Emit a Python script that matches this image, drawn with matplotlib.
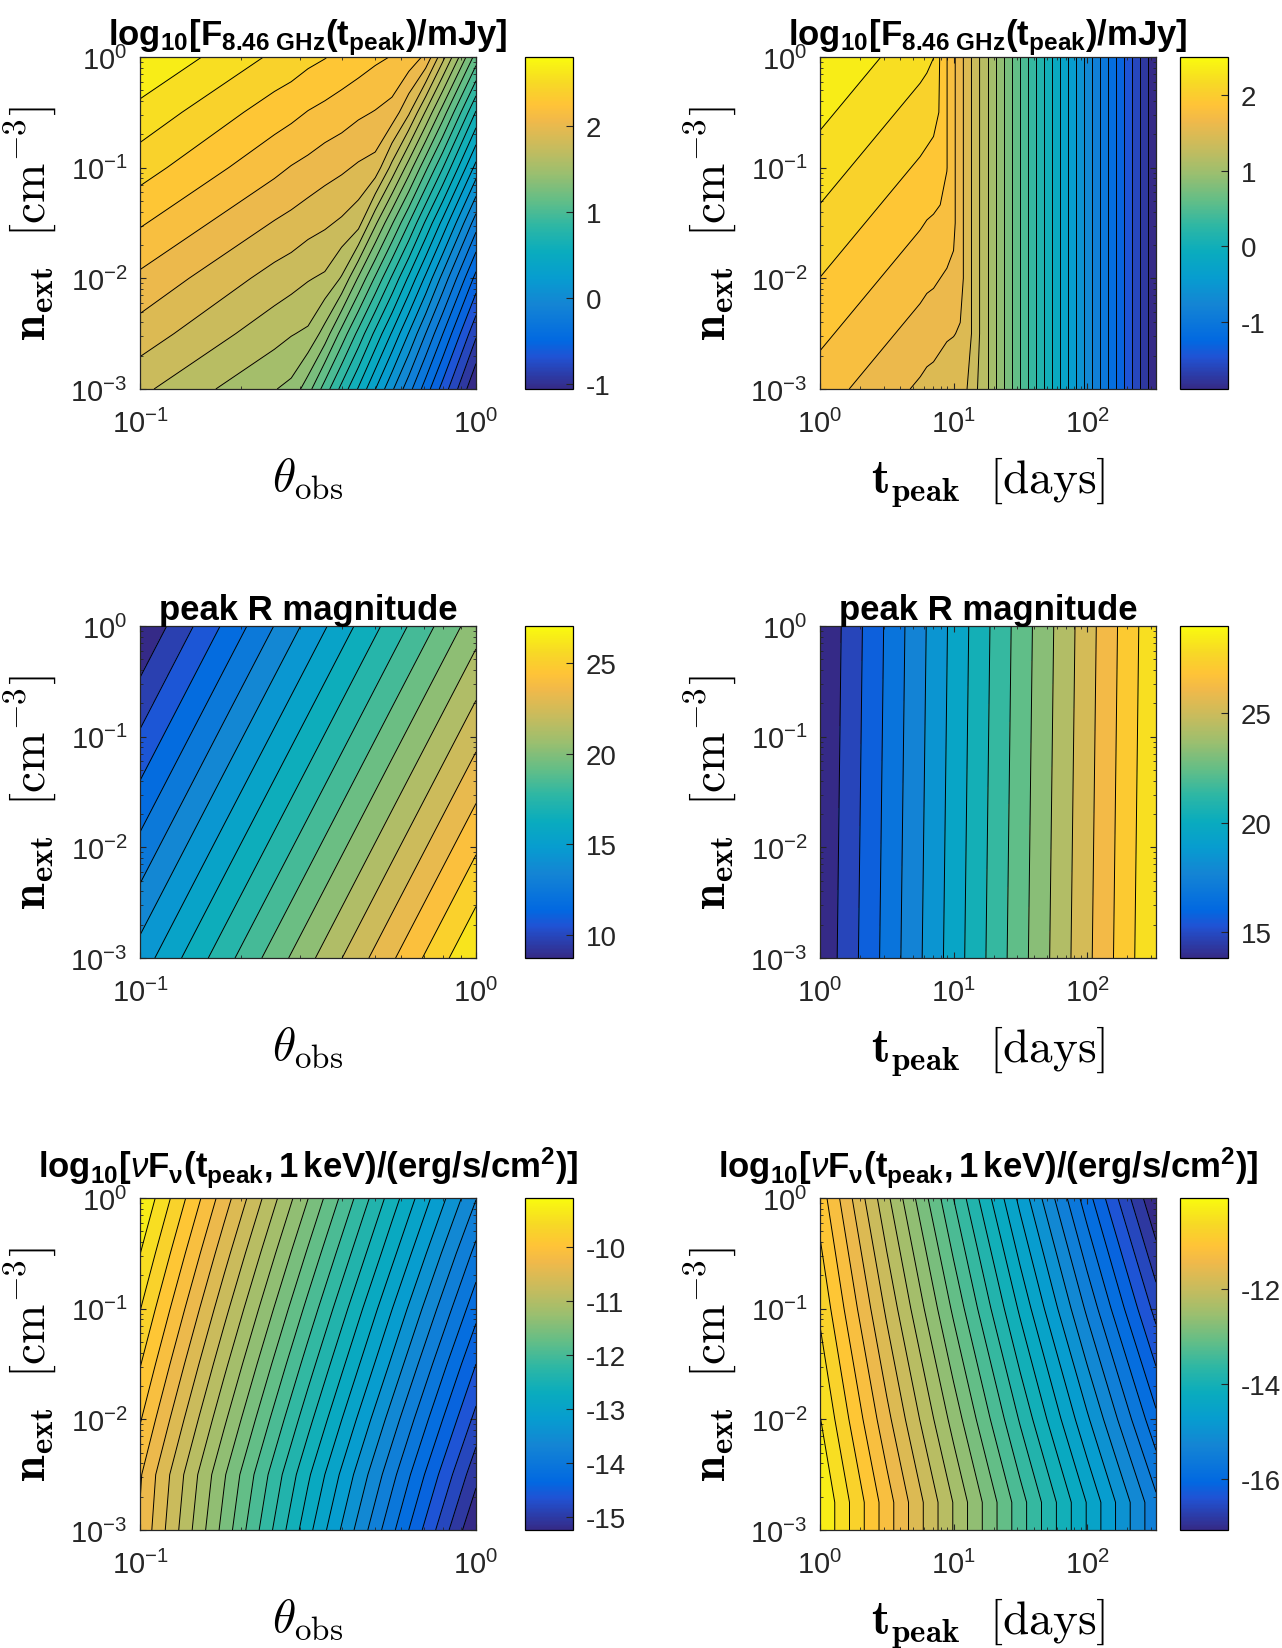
import numpy as np
import matplotlib
matplotlib.use('Agg')
import matplotlib.pyplot as plt
from matplotlib.colors import LinearSegmentedColormap, Normalize
from matplotlib.cm import ScalarMappable
from matplotlib.ticker import NullFormatter

plt.rcParams['font.family'] = ['Liberation Sans', 'DejaVu Sans']
plt.rcParams['mathtext.fontset'] = 'custom'
plt.rcParams['mathtext.rm'] = 'Liberation Sans'
plt.rcParams['mathtext.it'] = 'Liberation Sans:italic'
plt.rcParams['mathtext.bf'] = 'Liberation Sans:bold'
plt.rcParams['axes.unicode_minus'] = False

# ---- grids (log10 of theta_obs, t_peak [days], n_ext [cm^-3]) ----
n_exp = [0, -0.5, -1, -1.5, -2, -2.5, -3]

# top-left: log10 F_8.46GHz vs theta_obs
theta_exp_radio = [-1, -0.8, -0.6, -0.55, -0.5, -0.45, -0.4, -0.35, -0.3, -0.25, -0.2, -0.15, -0.1, 0]
radio_theta = [
    [2.80, 2.66, 2.52, 2.49, 2.45, 2.42, 2.38, 2.35, 2.31, 2.28, 2.24, 2.13, 1.82, 1.20],
    [2.63, 2.49, 2.35, 2.32, 2.28, 2.25, 2.22, 2.18, 2.15, 2.11, 1.92, 1.63, 1.33, 0.73],
    [2.47, 2.33, 2.19, 2.15, 2.12, 2.08, 2.05, 2.01, 1.98, 1.73, 1.45, 1.16, 0.88, 0.31],
    [2.30, 2.16, 2.02, 1.99, 1.95, 1.92, 1.88, 1.82, 1.54, 1.27, 1.00, 0.72, 0.45, -0.10],
    [2.13, 1.99, 1.85, 1.82, 1.78, 1.75, 1.63, 1.37, 1.11, 0.85, 0.59, 0.33, 0.06, -0.46],
    [1.97, 1.83, 1.69, 1.65, 1.62, 1.46, 1.21, 0.96, 0.71, 0.47, 0.22, -0.03, -0.28, -0.78],
    [1.80, 1.66, 1.52, 1.48, 1.31, 1.07, 0.83, 0.60, 0.36, 0.12, -0.11, -0.35, -0.59, -1.06],
]

# top-right: log10 F_8.46GHz vs t_peak
t_exp_radio = [0, 0.25, 0.5, 0.75, 0.8, 0.85, 0.9, 0.95, 1.0, 1.05, 1.1, 1.25, 1.5, 1.75, 2.0, 2.25, 2.516]
radio_t = [
    [2.50, 2.42, 2.34, 2.26, 2.24, 2.21, 2.05, 1.92, 1.80, 1.68, 1.56, 1.20, 0.59, -0.02, -0.63, -1.24, -1.88],
    [2.39, 2.31, 2.23, 2.15, 2.13, 2.11, 2.05, 1.92, 1.80, 1.68, 1.56, 1.20, 0.59, -0.02, -0.63, -1.24, -1.88],
    [2.28, 2.20, 2.12, 2.04, 2.02, 2.00, 1.99, 1.92, 1.80, 1.68, 1.56, 1.20, 0.59, -0.02, -0.63, -1.24, -1.88],
    [2.17, 2.09, 2.01, 1.93, 1.91, 1.90, 1.88, 1.86, 1.80, 1.68, 1.56, 1.20, 0.59, -0.02, -0.63, -1.24, -1.88],
    [2.06, 1.98, 1.90, 1.82, 1.80, 1.79, 1.77, 1.75, 1.74, 1.68, 1.56, 1.20, 0.59, -0.02, -0.63, -1.24, -1.88],
    [1.95, 1.87, 1.79, 1.71, 1.69, 1.68, 1.66, 1.64, 1.63, 1.61, 1.56, 1.20, 0.59, -0.02, -0.63, -1.24, -1.88],
    [1.84, 1.76, 1.68, 1.60, 1.58, 1.57, 1.55, 1.53, 1.52, 1.50, 1.48, 1.20, 0.59, -0.02, -0.63, -1.24, -1.88],
]

# middle-left: peak R magnitude vs theta_obs
theta_exp_opt = [-1, -0.75, -0.5, -0.25, 0]
n_exp_opt = [0, -1, -2, -3]
rmag_theta = [
    [8.73, 11.76, 14.78, 17.81, 20.83],
    [10.80, 13.83, 16.85, 19.88, 22.90],
    [12.87, 15.90, 18.92, 21.95, 24.97],
    [14.94, 17.97, 20.99, 24.02, 27.04],
]

# middle-right: peak R magnitude vs t_peak
t_exp_opt = [0, 0.5, 1.0, 1.5, 2.0, 2.516]
n_exp_opt_t = [0, -1.5, -3]
rmag_t = [
    [13.83, 16.81, 19.78, 22.76, 25.73, 28.80],
    [13.92, 16.90, 19.87, 22.85, 25.82, 28.89],
    [14.01, 16.99, 19.96, 22.94, 25.91, 28.98],
]

# bottom-left: log10 nuFnu(1 keV) vs theta_obs
theta_exp_x = [-1, -0.75, -0.5, -0.25, 0]
xray_theta = [
    [-9.10, -10.23, -11.35, -12.48, -13.60],
    [-9.30, -10.45, -11.59, -12.73, -13.88],
    [-9.50, -10.67, -11.83, -12.99, -14.15],
    [-9.70, -10.89, -12.07, -13.24, -14.43],
    [-9.90, -11.11, -12.31, -13.50, -14.70],
    [-10.10, -11.33, -12.55, -13.75, -14.98],
    [-10.15, -11.43, -12.72, -13.97, -15.25],
]

# bottom-right: log10 nuFnu(1 keV) vs t_peak
t_exp_x = [0, 0.5, 1.0, 1.5, 2.0, 2.516]
n_exp_x = [0, -1, -2, -2.75, -3]
xray_t = [
    [-10.90, -12.13, -13.35, -14.58, -15.80, -17.06],
    [-10.61, -11.77, -12.93, -14.09, -15.25, -16.45],
    [-10.32, -11.42, -12.51, -13.61, -14.70, -15.84],
    [-10.10, -11.15, -12.20, -13.25, -14.29, -15.38],
    [-10.10, -11.15, -12.20, -13.25, -14.29, -15.38],
]

title_radio = r'$\mathbf{log_{10}[F_{8.46\ GHz}(t_{peak})/mJy]}$'
title_opt = 'peak R magnitude'
title_x = r'$\mathbf{log_{10}[}\nu\mathbf{F_{\nu}(t_{peak},1\,keV)/(erg/s/cm^{2})]}$'
label_theta = r'$\theta_{\rm obs}$'
label_t = r'$\mathbf{t}_{\mathbf{peak}}\ \ [\mathrm{days}]$'
label_n = r'$\mathbf{n}_{\mathbf{ext}}\ \ [\mathrm{cm}^{-3}]$'

parula = LinearSegmentedColormap.from_list('parula', [
    (0.000, (0.2081, 0.1663, 0.5292)),
    (0.095, (0.1253, 0.3242, 0.8303)),
    (0.143, (0.0060, 0.4086, 0.8828)),
    (0.254, (0.0793, 0.5200, 0.8312)),
    (0.333, (0.0265, 0.6137, 0.8135)),
    (0.413, (0.0384, 0.6743, 0.7436)),
    (0.492, (0.1801, 0.7177, 0.6424)),
    (0.571, (0.3953, 0.7459, 0.5244)),
    (0.651, (0.6099, 0.7473, 0.4337)),
    (0.730, (0.7858, 0.7356, 0.3633)),
    (0.810, (0.9450, 0.7261, 0.2886)),
    (0.857, (0.9990, 0.7653, 0.2164)),
    (0.921, (0.9697, 0.8481, 0.1475)),
    (1.000, (0.9763, 0.9831, 0.0538)),
])

W, H = 1282, 1649
fig = plt.figure(figsize=(W / 100, H / 100), dpi=100)


def box(x0, y0, w, h):
    return [x0 / W, 1 - (y0 + h) / H, w / W, h / H]


def panel(col, row, xexp, yexp, z, nband, cticks, title, xlabel, tsize):
    ax_x = [140, 820][col]
    cb_x = [525, 1180][col]
    top = [58, 627, 1199][row]
    ax = fig.add_axes(box(ax_x, top, 336, 332))
    cax = fig.add_axes(box(cb_x, top, 48, 332))

    z = np.asarray(z)
    zmin, zmax = z.min(), z.max()
    levels = np.linspace(zmin, zmax, nband + 1)
    norm = Normalize(zmin, zmax)
    fills = parula(norm(levels[:-1]))

    ax.set_xscale('log')
    ax.set_yscale('log')
    xlim = (10 ** xexp[0], 10 ** xexp[-1])
    ax.set_xlim(*xlim)
    ax.set_ylim(1e-3, 1)
    # grid is given in log10 units -> draw in the scaled space of the log axes
    tr = ax.transLimits + ax.transAxes
    ax.contourf(xexp, yexp, z, levels=levels, colors=fills, transform=tr)
    ax.contour(xexp, yexp, z, levels=levels[1:-1], colors='k',
               linewidths=0.7, negative_linestyles='solid', transform=tr)
    ax.set_xlim(*xlim)
    ax.set_ylim(1e-3, 1)

    ax.xaxis.set_minor_formatter(NullFormatter())
    ax.yaxis.set_minor_formatter(NullFormatter())
    ax.tick_params(which='both', direction='in', top=True, right=True,
                   labelsize=21, colors='#262626')
    ax.tick_params(axis='x', which='both', pad=14)
    ax.tick_params(axis='y', which='both', pad=9)
    ax.tick_params(which='major', length=4, width=0.8)
    ax.tick_params(which='minor', length=2, width=0.6)
    for s in ax.spines.values():
        s.set_linewidth(0.9)
        s.set_color('#262626')

    ax.set_title(title, fontsize=tsize, fontweight='bold', pad=5 if row < 2 else 15)
    ax.set_xlabel(xlabel, fontsize=34, math_fontfamily='cm', labelpad=12)
    ax.set_ylabel(label_n, fontsize=34, math_fontfamily='cm', labelpad=8)

    cb = fig.colorbar(ScalarMappable(norm=norm, cmap=parula), cax=cax, ticks=cticks)
    cb.outline.set_linewidth(0.9)
    cax.tick_params(direction='in', length=5, width=0.8, labelsize=20, pad=9,
                    colors='#262626')
    return ax


panel(0, 0, theta_exp_radio, n_exp, radio_theta, 30, [-1, 0, 1, 2], title_radio, label_theta, 25)
panel(1, 0, t_exp_radio, n_exp, radio_t, 30, [-1, 0, 1, 2], title_radio, label_t, 25)
panel(0, 1, theta_exp_opt, n_exp_opt, rmag_theta, 19, [10, 15, 20, 25], title_opt, label_theta, 25)
panel(1, 1, t_exp_opt, n_exp_opt_t, rmag_t, 16, [15, 20, 25], title_opt, label_t, 25)
panel(0, 2, theta_exp_x, n_exp, xray_theta, 30, [-15, -14, -13, -12, -11, -10], title_x, label_theta, 25)
panel(1, 2, t_exp_x, n_exp_x, xray_t, 30, [-16, -14, -12], title_x, label_t, 25)

fig.savefig('out.png', dpi=100)
